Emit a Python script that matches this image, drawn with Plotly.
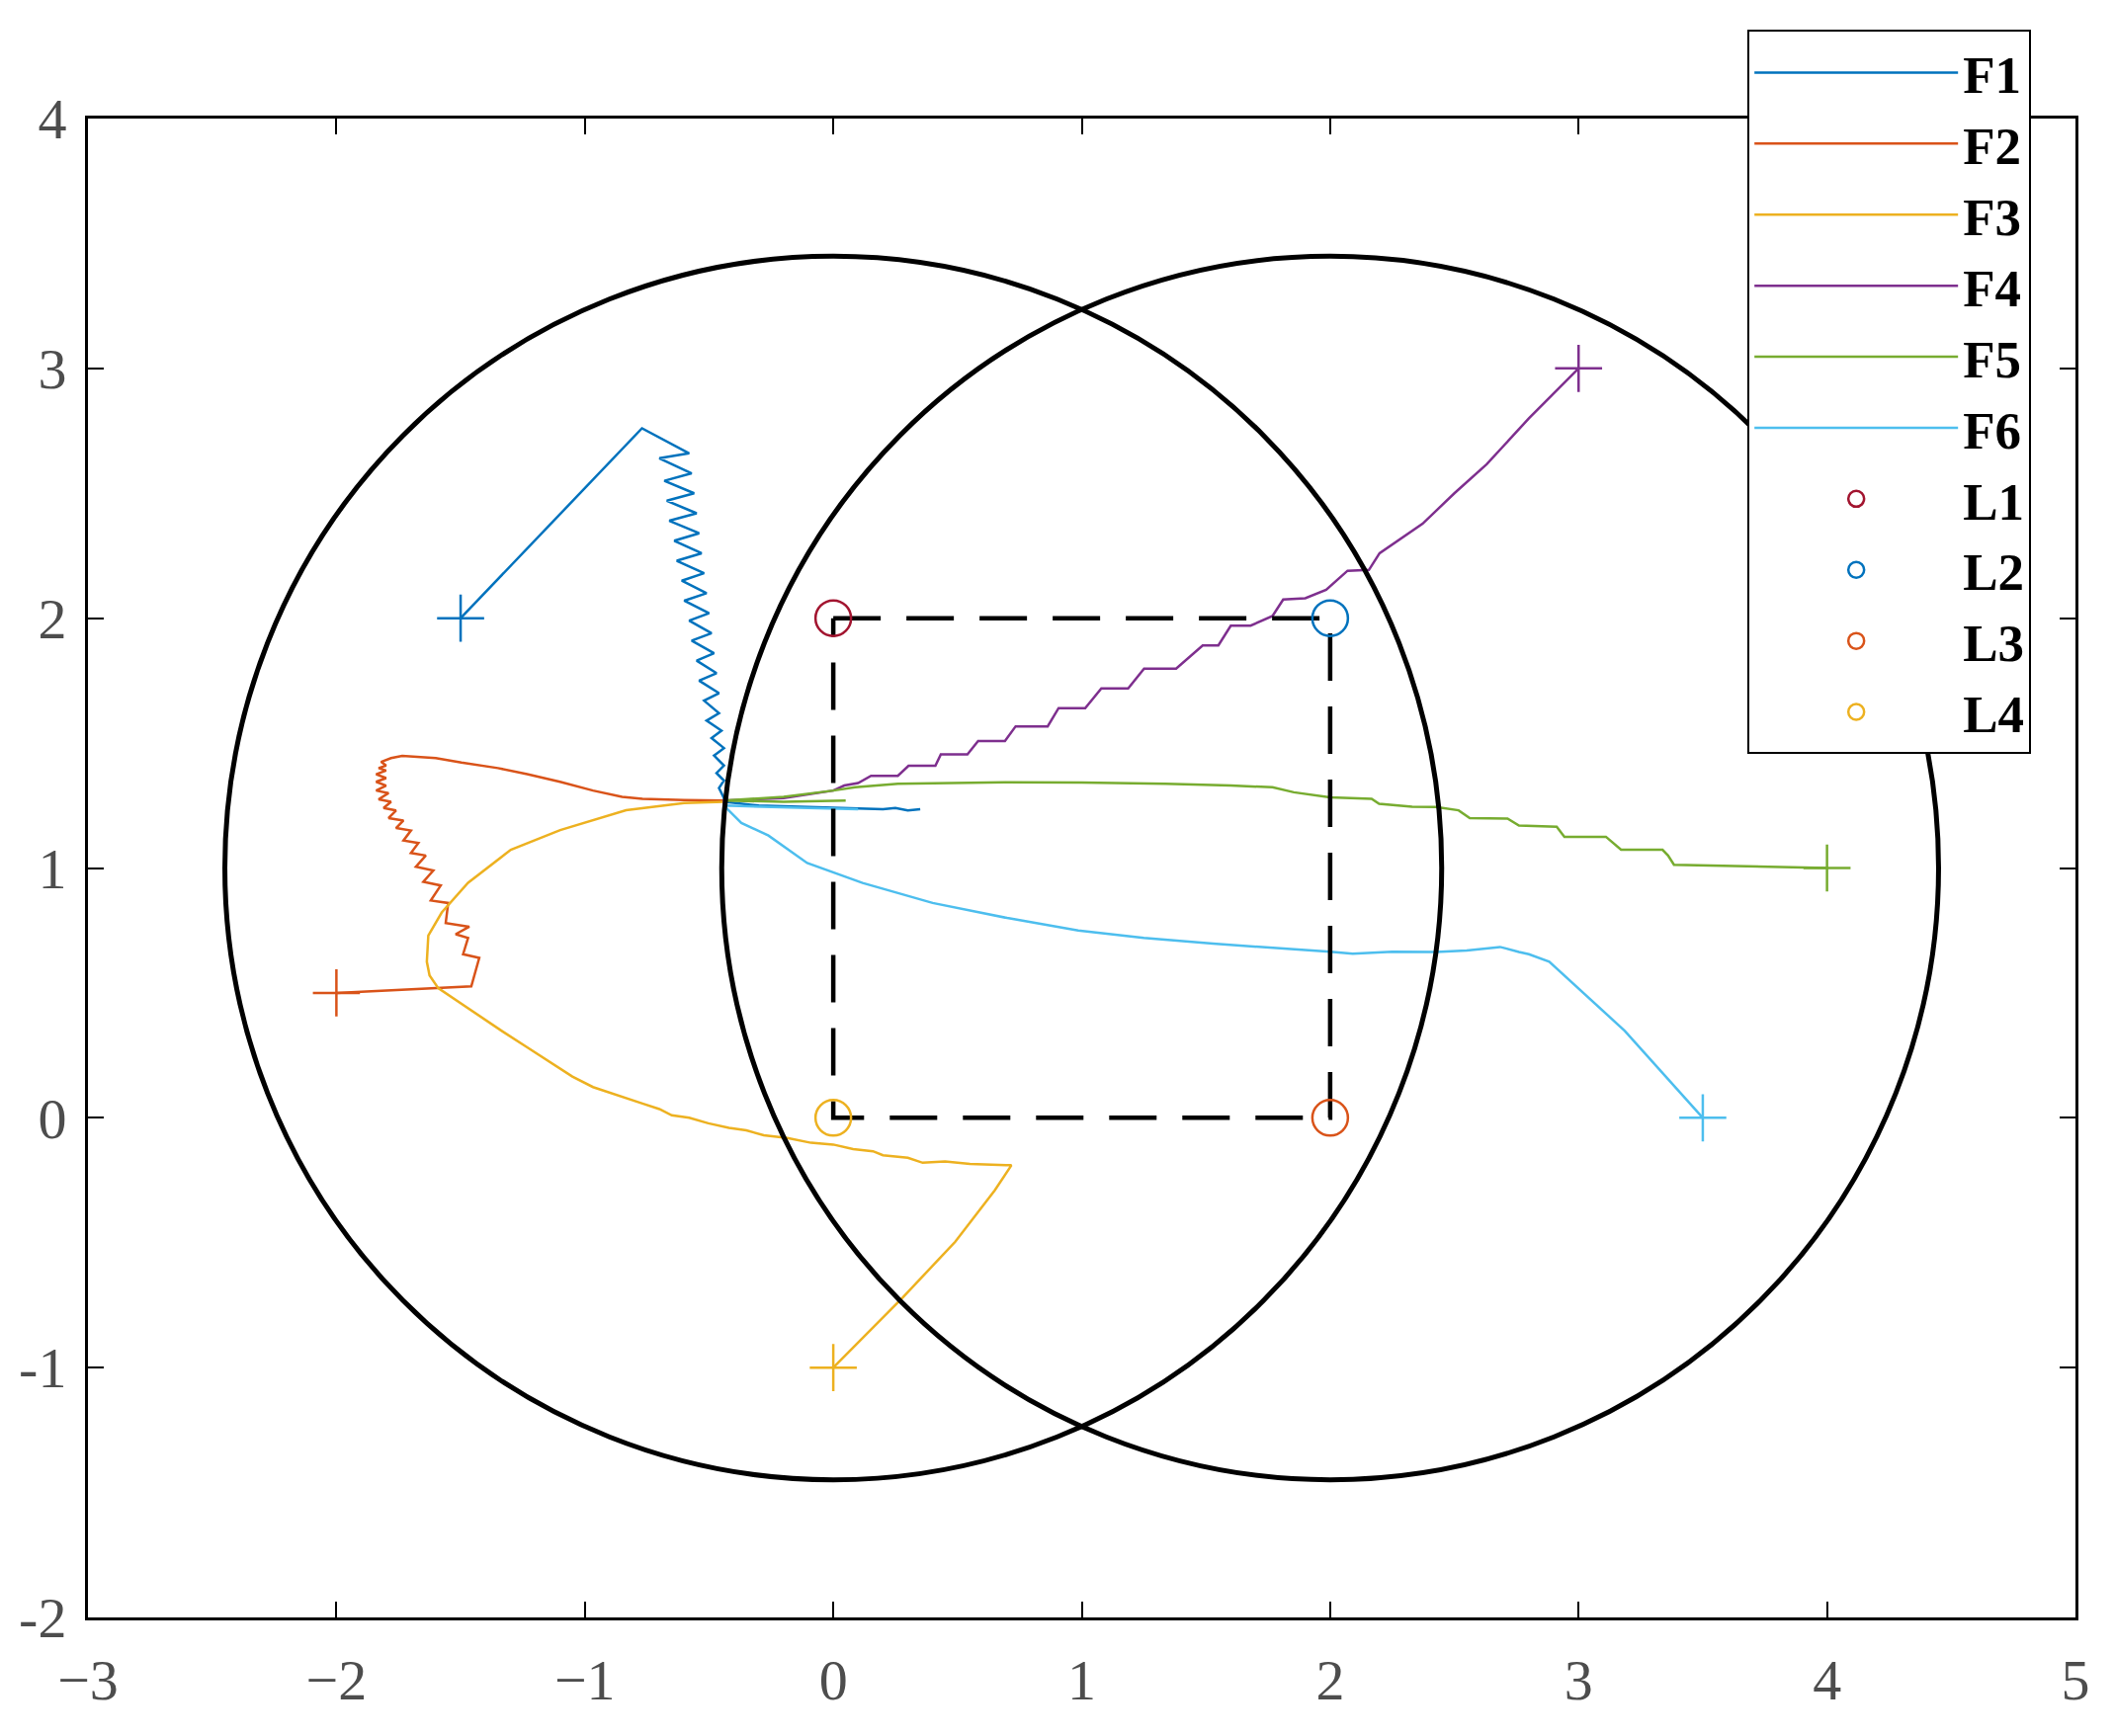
import plotly.graph_objects as go

# ── Data ──────────────────────────────────────────────────────────────────────

F1_X = [-1.50, -0.77, -0.58, -0.70, -0.57, -0.68, -0.56, -0.67, -0.55, -0.66, -0.54, -0.64,
        -0.53, -0.63, -0.52, -0.61, -0.51, -0.60, -0.50, -0.58, -0.49, -0.57, -0.48, -0.55,
        -0.47, -0.54, -0.46, -0.52, -0.46, -0.51, -0.45, -0.49, -0.44, -0.48, -0.44, -0.47,
        -0.44, -0.46, -0.44, -0.44, -0.30, -0.10, 0.10, 0.20, 0.25, 0.30, 0.35]
F1_Y = [2.00, 2.76, 2.66, 2.64, 2.58, 2.55, 2.50, 2.47, 2.42, 2.39, 2.34, 2.31,
        2.26, 2.23, 2.18, 2.15, 2.10, 2.07, 2.02, 1.99, 1.94, 1.91, 1.86, 1.83,
        1.78, 1.75, 1.70, 1.67, 1.62, 1.59, 1.55, 1.52, 1.48, 1.45, 1.41, 1.38,
        1.35, 1.32, 1.28, 1.265, 1.25, 1.245, 1.24, 1.235, 1.24, 1.23, 1.235]

F2_X = [-2.00, -1.457, -1.425, -1.49, -1.47, -1.52, -1.465, -1.56, -1.55, -1.62, -1.58, -1.65,
        -1.61, -1.68, -1.64, -1.70, -1.67, -1.73, -1.70, -1.76, -1.73, -1.79, -1.76, -1.81,
        -1.78, -1.83, -1.79, -1.84, -1.80, -1.84, -1.80, -1.84, -1.80, -1.83, -1.80, -1.82,
        -1.78, -1.735, -1.60, -1.497, -1.35, -1.232, -1.10, -0.967, -0.85, -0.768, -0.60, -0.44]
F2_Y = [0.50, 0.526, 0.64, 0.655, 0.72, 0.735, 0.765, 0.78, 0.86, 0.87, 0.93, 0.945,
        0.99, 1.005, 1.05, 1.06, 1.10, 1.11, 1.15, 1.16, 1.19, 1.20, 1.23, 1.24,
        1.265, 1.275, 1.30, 1.31, 1.33, 1.345, 1.36, 1.375, 1.39, 1.40, 1.41, 1.425,
        1.44, 1.449, 1.44, 1.422, 1.40, 1.376, 1.345, 1.31, 1.285, 1.277, 1.272, 1.27]

F3_X = [0.00, 0.279, 0.491, 0.65, 0.717, 0.55, 0.45, 0.36, 0.30, 0.20, 0.16, 0.08, 0.00,
        -0.09, -0.185, -0.28, -0.35, -0.42, -0.503, -0.58, -0.65, -0.70, -0.768, -0.84,
        -0.90, -0.967, -1.05, -1.13, -1.232, -1.33, -1.431, -1.51, -1.59, -1.625, -1.636,
        -1.63, -1.576, -1.47, -1.298, -1.099, -0.834, -0.60, -0.44]
F3_Y = [-1.00, -0.72, -0.496, -0.29, -0.19, -0.185, -0.175, -0.18, -0.16, -0.15, -0.134,
        -0.125, -0.107, -0.10, -0.081, -0.07, -0.05, -0.04, -0.022, 0.00, 0.01, 0.035, 0.057,
        0.08, 0.10, 0.123, 0.165, 0.215, 0.282, 0.345, 0.413, 0.465, 0.519, 0.57, 0.625,
        0.73, 0.822, 0.941, 1.073, 1.152, 1.231, 1.26, 1.265]

F4_X = [3.00, 2.80, 2.63, 2.50, 2.372, 2.26, 2.199, 2.156, 2.07, 1.984, 1.90, 1.811, 1.768,
        1.68, 1.60, 1.55, 1.487, 1.38, 1.251, 1.187, 1.079, 1.014, 0.907, 0.863, 0.734,
        0.691, 0.583, 0.540, 0.433, 0.411, 0.303, 0.260, 0.152, 0.10, 0.044, 0.00, -0.20,
        -0.44, -0.44, -0.445]
F4_Y = [3.00, 2.80, 2.616, 2.50, 2.378, 2.30, 2.26, 2.193, 2.19, 2.114, 2.08, 2.075, 2.009,
        1.97, 1.97, 1.891, 1.891, 1.798, 1.798, 1.719, 1.719, 1.640, 1.640, 1.567, 1.567,
        1.508, 1.508, 1.455, 1.455, 1.409, 1.409, 1.369, 1.369, 1.34, 1.33, 1.31, 1.28,
        1.27, 1.20, 1.10]

F5_X = [4.00, 3.642, 3.384, 3.36, 3.338, 3.171, 3.110, 2.943, 2.912, 2.760, 2.714, 2.562,
        2.517, 2.426, 2.33, 2.197, 2.167, 1.999, 1.854, 1.768, 1.60, 1.337, 1.00, 0.691,
        0.26, 0.088, 0.00, -0.20, -0.44, -0.20, 0.05]
F5_Y = [1.00, 1.007, 1.013, 1.05, 1.073, 1.073, 1.125, 1.125, 1.165, 1.17, 1.198, 1.20,
        1.231, 1.244, 1.245, 1.257, 1.277, 1.283, 1.303, 1.323, 1.33, 1.337, 1.342, 1.343,
        1.337, 1.323, 1.31, 1.285, 1.27, 1.265, 1.27]

F6_X = [3.50, 3.186, 2.882, 2.80, 2.760, 2.684, 2.55, 2.426, 2.25, 2.091, 2.00, 1.817,
        1.528, 1.25, 0.986, 0.70, 0.40, 0.118, -0.105, -0.261, -0.37, -0.44, -0.30, -0.10, 0.10]
F6_Y = [0.00, 0.348, 0.625, 0.655, 0.664, 0.684, 0.67, 0.664, 0.665, 0.657, 0.665, 0.677,
        0.697, 0.72, 0.75, 0.80, 0.86, 0.94, 1.02, 1.13, 1.18, 1.25, 1.245, 1.24, 1.235]

FOLLOWERS = ["F1", "F2", "F3", "F4", "F5", "F6"]
FOLLOWER_X = [F1_X, F2_X, F3_X, F4_X, F5_X, F6_X]
FOLLOWER_Y = [F1_Y, F2_Y, F3_Y, F4_Y, F5_Y, F6_Y]

LEADERS = ["L1", "L2", "L3", "L4"]
LEADER_X = [0, 2, 2, 0]
LEADER_Y = [2, 2, 0, 0]

CIRCLE_CX = [0, 2]
CIRCLE_CY = [1, 1]
CIRCLE_R = 2.449

Y_TICKS = [-2, -1, 0, 1, 2, 3, 4]
Y_TICK_TEXT = ["-2", "-1", "0", "1", "2", "3", "4"]

FOLLOWER_COLOR = ["#0072BD", "#D95319", "#EDB120", "#7E2F8E", "#77AC30", "#4DBEEE"]
LEADER_COLOR = ["#A2142F", "#0072BD", "#D95319", "#EDB120"]

FONT = "Liberation Serif"

# ── Figure ────────────────────────────────────────────────────────────────────

fig = go.Figure()

for name, xs, ys, color in zip(FOLLOWERS, FOLLOWER_X, FOLLOWER_Y, FOLLOWER_COLOR):
    fig.add_trace(
        go.Scatter(
            x=xs,
            y=ys,
            mode="lines",
            name=name,
            line={"color": color, "width": 2.5},
        )
    )

# start markers (+)
for xs, ys, color in zip(FOLLOWER_X, FOLLOWER_Y, FOLLOWER_COLOR):
    fig.add_trace(
        go.Scatter(
            x=[xs[0]],
            y=[ys[0]],
            mode="markers",
            showlegend=False,
            marker={
                "symbol": "cross-thin",
                "size": 34,
                "line": {"color": color, "width": 2.5},
            },
        )
    )

# dashed leader square
fig.add_trace(
    go.Scatter(
        x=LEADER_X + LEADER_X[:1],
        y=LEADER_Y + LEADER_Y[:1],
        mode="lines",
        showlegend=False,
        line={"color": "black", "width": 4.5, "dash": "48px,26px"},
    )
)

for name, lx, ly, color in zip(LEADERS, LEADER_X, LEADER_Y, LEADER_COLOR):
    fig.add_trace(
        go.Scatter(
            x=[lx],
            y=[ly],
            mode="markers",
            name=name,
            marker={
                "symbol": "circle-open",
                "size": 36,
                "color": color,
                "line": {"color": color, "width": 2.5},
            },
        )
    )

for cx, cy in zip(CIRCLE_CX, CIRCLE_CY):
    fig.add_shape(
        type="circle",
        xref="x",
        yref="y",
        x0=cx - CIRCLE_R,
        x1=cx + CIRCLE_R,
        y0=cy - CIRCLE_R,
        y1=cy + CIRCLE_R,
        line={"color": "black", "width": 5},
    )

axis_common = {
    "showgrid": False,
    "zeroline": False,
    "showline": True,
    "linecolor": "black",
    "linewidth": 3,
    "mirror": "ticks",
    "ticks": "inside",
    "ticklen": 16,
    "tickwidth": 2,
    "tickcolor": "black",
    "automargin": False,
    "tickfont": {"family": FONT, "size": 58, "color": "#4d4d4d"},
}

# page body adds an 8px offset, so margins are shifted to compensate
fig.update_layout(
    width=2139,
    height=1757,
    autosize=False,
    margin={"t": 112, "b": 128, "l": 81, "r": 47, "autoexpand": False},
    paper_bgcolor="white",
    plot_bgcolor="white",
    legend={
        "x": 0.835,
        "y": 1.059,
        "xanchor": "left",
        "yanchor": "top",
        "bgcolor": "white",
        "bordercolor": "black",
        "borderwidth": 2,
        "itemwidth": 206,
        "font": {"family": FONT, "size": 53, "color": "black", "weight": "bold"},
    },
    xaxis={**axis_common, "range": [-3, 5], "dtick": 1, "ticklabelstandoff": 10},
    yaxis={
        **axis_common,
        "range": [-2, 4],
        "tickvals": Y_TICKS,
        "ticktext": Y_TICK_TEXT,
        "ticklabelstandoff": 7,
    },
)

fig.write_html("out.html")
